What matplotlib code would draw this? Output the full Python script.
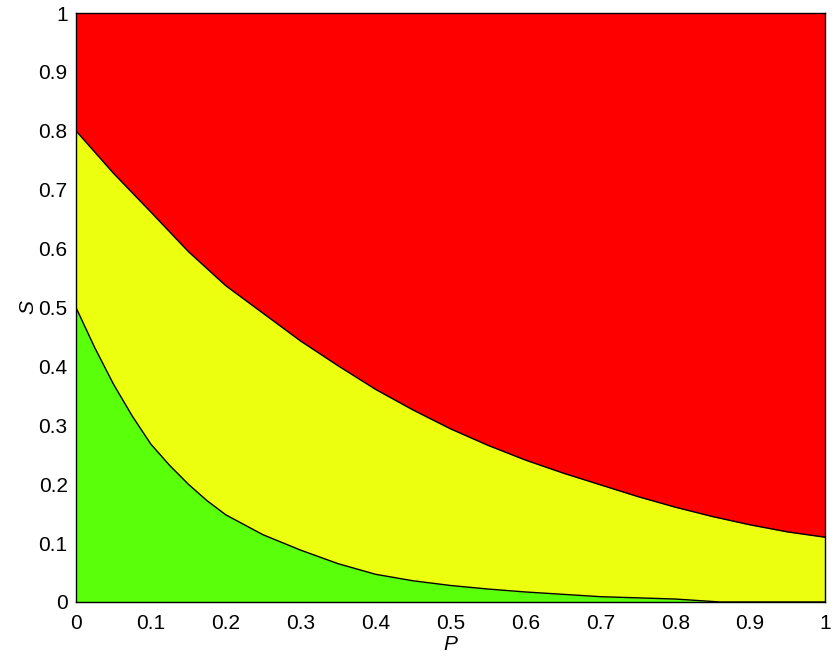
import numpy as np
import matplotlib.pyplot as plt

plt.rcParams['font.family'] = ['Liberation Sans', 'DejaVu Sans']

# upper boundary (red / yellow)
p_upper = [0, 0.05, 0.1, 0.15, 0.2, 0.25, 0.3, 0.35, 0.4, 0.45, 0.5,
           0.55, 0.6, 0.65, 0.7, 0.75, 0.8, 0.85, 0.9, 0.95, 1.0]
s_upper = [0.80, 0.728, 0.662, 0.595, 0.537, 0.490, 0.443, 0.401, 0.361, 0.326, 0.294,
           0.266, 0.241, 0.219, 0.199, 0.179, 0.161, 0.145, 0.131, 0.119, 0.110]

# lower boundary (yellow / green)
p_lower = [0, 0.025, 0.05, 0.075, 0.1, 0.125, 0.15, 0.175, 0.2, 0.25, 0.3, 0.35, 0.4,
           0.45, 0.5, 0.55, 0.6, 0.65, 0.7, 0.75, 0.8, 0.86, 1.0]
s_lower = [0.50, 0.432, 0.370, 0.316, 0.268, 0.232, 0.200, 0.172, 0.148, 0.114, 0.088, 0.065, 0.047,
           0.036, 0.028, 0.022, 0.017, 0.013, 0.009, 0.007, 0.005, 0.0, 0.0]

RED = '#ff0000'
YELLOW = '#ebff0f'
GREEN = '#5aff0a'

fig = plt.figure(figsize=(8.33, 6.64), dpi=100)
ax = fig.add_axes([0.0912, 0.0934, 0.8992, 0.887])

ax.set_facecolor(RED)
ax.fill_between(p_upper, 0, s_upper, color=YELLOW, linewidth=0)
ax.fill_between(p_lower, 0, s_lower, color=GREEN, linewidth=0)
ax.plot(p_upper, s_upper, color='black', linewidth=1)
ax.plot(p_lower, s_lower, color='black', linewidth=1)

ax.set_xlim(0, 1)
ax.set_ylim(0, 1)
ticks = np.round(np.arange(0, 1.01, 0.1), 1)
labels = ['0' if t == 0 else ('1' if t == 1 else f'{t:g}') for t in ticks]
ax.set_xticks(ticks)
ax.set_xticklabels(labels)
ax.set_yticks(ticks)
ax.set_yticklabels(labels)
ax.tick_params(axis='both', length=0, labelsize=15)
ax.tick_params(axis='x', pad=9)
ax.tick_params(axis='y', pad=6)
for sp in ax.spines.values():
    sp.set_linewidth(1)

ax.set_xlabel('P', fontsize=15, fontstyle='italic', labelpad=1)
ax.set_ylabel('S', fontsize=15, fontstyle='italic', labelpad=1)

plt.savefig('out.png', dpi=100)
